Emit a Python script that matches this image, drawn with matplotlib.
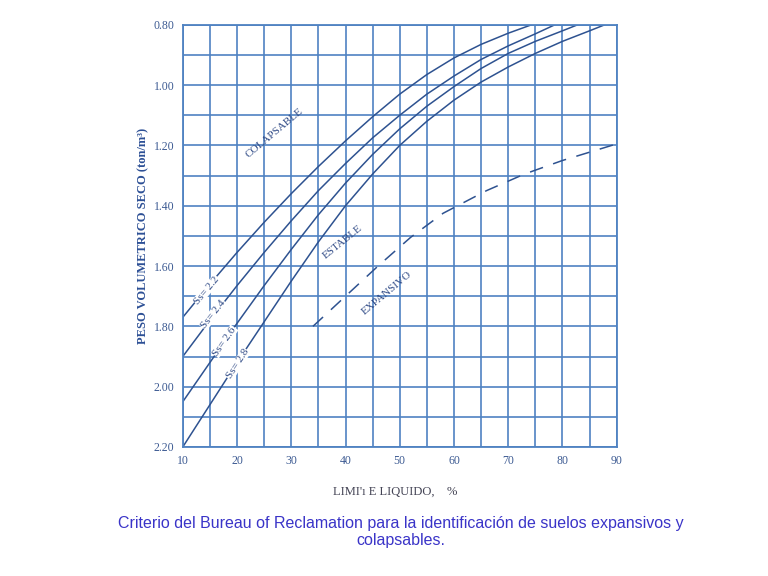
import matplotlib
matplotlib.use("Agg")
import matplotlib.pyplot as plt
import numpy as np

# ---- data ----
ll_ss22 = [10, 15, 20, 25, 30, 35, 40, 45, 50, 55, 60, 65, 70, 74.3]
gd_ss22 = [1.77, 1.66, 1.555, 1.455, 1.36, 1.27, 1.185, 1.105, 1.03, 0.965, 0.91, 0.865, 0.828, 0.80]

ll_ss24 = [10, 15, 20, 25, 30, 35, 40, 45, 50, 55, 60, 65, 70, 75, 78.6]
gd_ss24 = [1.90, 1.78, 1.665, 1.555, 1.45, 1.35, 1.26, 1.175, 1.10, 1.03, 0.97, 0.915, 0.87, 0.83, 0.80]

ll_ss26 = [10, 15, 20, 25, 30, 35, 40, 45, 50, 55, 60, 65, 70, 75, 80, 82.8]
gd_ss26 = [2.05, 1.92, 1.79, 1.665, 1.545, 1.43, 1.325, 1.23, 1.145, 1.07, 1.005, 0.945, 0.895, 0.855, 0.82, 0.80]

ll_ss28 = [10, 15, 20, 25, 30, 35, 40, 45, 50, 55, 60, 65, 70, 75, 80, 85, 87.8]
gd_ss28 = [2.20, 2.06, 1.92, 1.785, 1.65, 1.52, 1.40, 1.295, 1.20, 1.12, 1.05, 0.99, 0.94, 0.895, 0.855, 0.82, 0.80]

ll_exp = [34, 40, 46, 52, 58, 66, 73, 80, 90]
gd_exp = [1.80, 1.70, 1.60, 1.505, 1.425, 1.35, 1.295, 1.25, 1.195]

x_ticks = [10, 20, 30, 40, 50, 60, 70, 80, 90]
y_ticks = [0.80, 1.00, 1.20, 1.40, 1.60, 1.80, 2.00, 2.20]
y_ticklabels = ["0.80", "1.00", "1.20", "1.40", "1.60", "1.80", "2.00", "2.20"]

curve_labels = ["Ss= 2.2", "Ss= 2.4", "Ss= 2.6", "Ss= 2.8"]
curve_label_pos = [(14.4, 1.68), (15.6, 1.76), (17.7, 1.85), (20.1, 1.925)]
curve_label_rot = [50, 52, 55, 57]

zone_labels = ["COLAPSABLE", "ESTABLE", "EXPANSIVO"]
zone_label_pos = [(26.8, 1.16), (39.5, 1.52), (47.6, 1.69)]
zone_label_rot = [40, 39, 40]

caption = ("Criterio del Bureau of Reclamation para la identificación de suelos expansivos y\n"
           "colapsables.")

# ---- styling ----
line_c = "#2e5290"
grid_c = "#4f82c2"
text_c = "#2f4a86"
serif = ["Liberation Serif", "DejaVu Serif"]

fig = plt.figure(figsize=(7.68, 5.76), dpi=100)
ax = fig.add_axes([0.238, 0.224, 0.565, 0.733])

ax.set_xlim(10, 90)
ax.set_ylim(2.20, 0.80)

ax.set_xticks(x_ticks)
ax.set_xticks(np.arange(15, 90, 10), minor=True)
ax.set_yticks(y_ticks)
ax.set_yticks(np.arange(0.9, 2.2, 0.2), minor=True)
ax.grid(True, which="both", color=grid_c, linewidth=1.2)
ax.tick_params(which="both", length=0, pad=6)
ax.set_xticklabels([str(v) for v in x_ticks], fontfamily=serif, fontsize=8.5, color="#3c5a92")
ax.set_yticklabels(y_ticklabels, fontfamily=serif, fontsize=8.5, color="#3c5a92")
for s in ax.spines.values():
    s.set_color(grid_c)
    s.set_linewidth(1.3)

for xs, ys in [(ll_ss22, gd_ss22), (ll_ss24, gd_ss24), (ll_ss26, gd_ss26), (ll_ss28, gd_ss28)]:
    ax.plot(xs, ys, color=line_c, linewidth=1.1, solid_joinstyle="round")

ax.plot(ll_exp, gd_exp, color=line_c, linewidth=1.1, linestyle=(0, (9, 7)))

for t, (x, y), r in zip(curve_labels, curve_label_pos, curve_label_rot):
    ax.text(x, y, t, rotation=r, rotation_mode="anchor", ha="center", va="center",
            fontfamily=serif, fontsize=8, color=text_c,
            bbox=dict(facecolor="white", edgecolor="none", pad=0.3))

for t, (x, y), r in zip(zone_labels, zone_label_pos, zone_label_rot):
    ax.text(x, y, t, rotation=r, rotation_mode="anchor", ha="center", va="center",
            fontfamily=serif, fontsize=8, color=text_c)

fig.text(0.186, 0.59, "PESO VOLUMETRICO SECO (ton/m³)", rotation=90, ha="center", va="center",
         fontfamily=serif, fontsize=9, fontweight="bold", color="#2c4f95")
fig.text(0.515, 0.147, "LIMI'ı E LIQUIDO,    %", ha="center", va="center",
         fontfamily=serif, fontsize=9, color="#444455")
fig.text(0.522, 0.076, caption, ha="center", va="center", fontfamily=["Liberation Sans", "DejaVu Sans"],
         fontsize=11.5, color="#3a34c8", linespacing=1.2)

fig.savefig("out.png", dpi=100)
